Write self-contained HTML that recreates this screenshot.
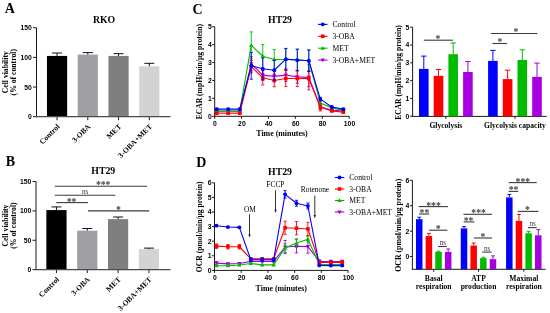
<!DOCTYPE html>
<html><head><meta charset="utf-8"><style>
html,body{margin:0;padding:0;background:#fff;width:550px;height:313px;overflow:hidden}
svg{display:block;will-change:transform}
</style></head><body>
<svg width="550" height="313" viewBox="0 0 550 313" shape-rendering="auto">
<rect width="550" height="313" fill="#fff"/>
<text x="4.80" y="12.80" font-family='"Liberation Serif", serif' font-size="14" font-weight="bold" text-anchor="start" fill="#000">A</text>
<text x="104.10" y="22.70" font-family='"Liberation Serif", serif' font-size="9.8" font-weight="bold" text-anchor="middle" fill="#000">RKO</text>
<line x1="36.50" y1="27.75" x2="36.50" y2="117.20" stroke="#1a1a1a" stroke-width="1"/>
<line x1="33.00" y1="116.70" x2="36.50" y2="116.70" stroke="#1a1a1a" stroke-width="1"/>
<text x="31.90" y="119.15" font-family='"Liberation Sans", sans-serif' font-size="6.8" font-weight="bold" text-anchor="end" fill="#000">0</text>
<line x1="33.00" y1="87.05" x2="36.50" y2="87.05" stroke="#1a1a1a" stroke-width="1"/>
<text x="31.90" y="89.50" font-family='"Liberation Sans", sans-serif' font-size="6.8" font-weight="bold" text-anchor="end" fill="#000">50</text>
<line x1="33.00" y1="57.40" x2="36.50" y2="57.40" stroke="#1a1a1a" stroke-width="1"/>
<text x="31.90" y="59.85" font-family='"Liberation Sans", sans-serif' font-size="6.8" font-weight="bold" text-anchor="end" fill="#000">100</text>
<line x1="33.00" y1="27.75" x2="36.50" y2="27.75" stroke="#1a1a1a" stroke-width="1"/>
<text x="31.90" y="30.20" font-family='"Liberation Sans", sans-serif' font-size="6.8" font-weight="bold" text-anchor="end" fill="#000">150</text>
<rect x="46.95" y="55.92" width="20.20" height="60.78" fill="#000000"/>
<line x1="57.05" y1="53.01" x2="57.05" y2="55.92" stroke="#111" stroke-width="1"/>
<line x1="52.05" y1="53.01" x2="62.05" y2="53.01" stroke="#111" stroke-width="1"/>
<line x1="57.05" y1="116.70" x2="57.05" y2="120.20" stroke="#1a1a1a" stroke-width="1"/>
<text x="60.25" y="127.00" font-family='"Liberation Serif", serif' font-size="7.6" font-weight="bold" text-anchor="end" fill="#000" transform="rotate(-45 60.25 127.00)">Control</text>
<rect x="77.70" y="54.61" width="20.20" height="62.09" fill="#a09fa3"/>
<line x1="87.80" y1="52.60" x2="87.80" y2="54.61" stroke="#111" stroke-width="1"/>
<line x1="82.80" y1="52.60" x2="92.80" y2="52.60" stroke="#111" stroke-width="1"/>
<line x1="87.80" y1="116.70" x2="87.80" y2="120.20" stroke="#1a1a1a" stroke-width="1"/>
<text x="91.00" y="127.00" font-family='"Liberation Serif", serif' font-size="7.6" font-weight="bold" text-anchor="end" fill="#000" transform="rotate(-45 91.00 127.00)">3-OBA</text>
<rect x="108.45" y="55.92" width="20.20" height="60.78" fill="#7f7f7f"/>
<line x1="118.55" y1="53.66" x2="118.55" y2="55.92" stroke="#111" stroke-width="1"/>
<line x1="113.55" y1="53.66" x2="123.55" y2="53.66" stroke="#111" stroke-width="1"/>
<line x1="118.55" y1="116.70" x2="118.55" y2="120.20" stroke="#1a1a1a" stroke-width="1"/>
<text x="121.75" y="127.00" font-family='"Liberation Serif", serif' font-size="7.6" font-weight="bold" text-anchor="end" fill="#000" transform="rotate(-45 121.75 127.00)">MET</text>
<rect x="139.20" y="66.30" width="20.20" height="50.41" fill="#d3d3d3"/>
<line x1="149.30" y1="63.33" x2="149.30" y2="66.30" stroke="#111" stroke-width="1"/>
<line x1="144.30" y1="63.33" x2="154.30" y2="63.33" stroke="#111" stroke-width="1"/>
<line x1="149.30" y1="116.70" x2="149.30" y2="120.20" stroke="#1a1a1a" stroke-width="1"/>
<text x="152.50" y="127.00" font-family='"Liberation Serif", serif' font-size="7.6" font-weight="bold" text-anchor="end" fill="#000" transform="rotate(-45 152.50 127.00)">3-OBA+MET</text>
<line x1="36.00" y1="116.70" x2="170.50" y2="116.70" stroke="#4a4a4a" stroke-width="1.2"/>
<text x="7.60" y="72.23" font-family='"Liberation Serif", serif' font-size="7.7" font-weight="bold" text-anchor="middle" fill="#000" transform="rotate(-90 7.60 72.23)">Cell viability</text>
<text x="16.40" y="72.23" font-family='"Liberation Serif", serif' font-size="7.7" font-weight="bold" text-anchor="middle" fill="#000" transform="rotate(-90 16.40 72.23)">(% of control)</text>
<text x="5.80" y="166.30" font-family='"Liberation Serif", serif' font-size="14" font-weight="bold" text-anchor="start" fill="#000">B</text>
<text x="103.30" y="174.20" font-family='"Liberation Serif", serif' font-size="9.8" font-weight="bold" text-anchor="middle" fill="#000">HT29</text>
<line x1="36.00" y1="181.55" x2="36.00" y2="270.10" stroke="#1a1a1a" stroke-width="1"/>
<line x1="32.50" y1="269.60" x2="36.00" y2="269.60" stroke="#1a1a1a" stroke-width="1"/>
<text x="31.40" y="272.05" font-family='"Liberation Sans", sans-serif' font-size="6.8" font-weight="bold" text-anchor="end" fill="#000">0</text>
<line x1="32.50" y1="240.25" x2="36.00" y2="240.25" stroke="#1a1a1a" stroke-width="1"/>
<text x="31.40" y="242.70" font-family='"Liberation Sans", sans-serif' font-size="6.8" font-weight="bold" text-anchor="end" fill="#000">50</text>
<line x1="32.50" y1="210.90" x2="36.00" y2="210.90" stroke="#1a1a1a" stroke-width="1"/>
<text x="31.40" y="213.35" font-family='"Liberation Sans", sans-serif' font-size="6.8" font-weight="bold" text-anchor="end" fill="#000">100</text>
<line x1="32.50" y1="181.55" x2="36.00" y2="181.55" stroke="#1a1a1a" stroke-width="1"/>
<text x="31.40" y="184.00" font-family='"Liberation Sans", sans-serif' font-size="6.8" font-weight="bold" text-anchor="end" fill="#000">150</text>
<rect x="46.35" y="210.08" width="20.20" height="59.52" fill="#000000"/>
<line x1="56.45" y1="206.91" x2="56.45" y2="210.08" stroke="#111" stroke-width="1"/>
<line x1="51.45" y1="206.91" x2="61.45" y2="206.91" stroke="#111" stroke-width="1"/>
<line x1="56.45" y1="269.60" x2="56.45" y2="273.10" stroke="#1a1a1a" stroke-width="1"/>
<text x="59.65" y="279.90" font-family='"Liberation Serif", serif' font-size="7.6" font-weight="bold" text-anchor="end" fill="#000" transform="rotate(-45 59.65 279.90)">Control</text>
<rect x="77.18" y="230.68" width="20.20" height="38.92" fill="#a09fa3"/>
<line x1="87.28" y1="228.51" x2="87.28" y2="230.68" stroke="#111" stroke-width="1"/>
<line x1="82.28" y1="228.51" x2="92.28" y2="228.51" stroke="#111" stroke-width="1"/>
<line x1="87.28" y1="269.60" x2="87.28" y2="273.10" stroke="#1a1a1a" stroke-width="1"/>
<text x="90.48" y="279.90" font-family='"Liberation Serif", serif' font-size="7.6" font-weight="bold" text-anchor="end" fill="#000" transform="rotate(-45 90.48 279.90)">3-OBA</text>
<rect x="108.01" y="219.12" width="20.20" height="50.48" fill="#7f7f7f"/>
<line x1="118.11" y1="217.00" x2="118.11" y2="219.12" stroke="#111" stroke-width="1"/>
<line x1="113.11" y1="217.00" x2="123.11" y2="217.00" stroke="#111" stroke-width="1"/>
<line x1="118.11" y1="269.60" x2="118.11" y2="273.10" stroke="#1a1a1a" stroke-width="1"/>
<text x="121.31" y="279.90" font-family='"Liberation Serif", serif' font-size="7.6" font-weight="bold" text-anchor="end" fill="#000" transform="rotate(-45 121.31 279.90)">MET</text>
<rect x="138.84" y="249.17" width="20.20" height="20.43" fill="#d3d3d3"/>
<line x1="148.94" y1="248.12" x2="148.94" y2="249.17" stroke="#111" stroke-width="1"/>
<line x1="143.94" y1="248.12" x2="153.94" y2="248.12" stroke="#111" stroke-width="1"/>
<line x1="148.94" y1="269.60" x2="148.94" y2="273.10" stroke="#1a1a1a" stroke-width="1"/>
<text x="152.14" y="279.90" font-family='"Liberation Serif", serif' font-size="7.6" font-weight="bold" text-anchor="end" fill="#000" transform="rotate(-45 152.14 279.90)">3-OBA+MET</text>
<line x1="35.50" y1="269.60" x2="170.50" y2="269.60" stroke="#4a4a4a" stroke-width="1.2"/>
<text x="7.60" y="225.58" font-family='"Liberation Serif", serif' font-size="7.7" font-weight="bold" text-anchor="middle" fill="#000" transform="rotate(-90 7.60 225.58)">Cell viability</text>
<text x="16.40" y="225.58" font-family='"Liberation Serif", serif' font-size="7.7" font-weight="bold" text-anchor="middle" fill="#000" transform="rotate(-90 16.40 225.58)">(% of control)</text>
<line x1="54.80" y1="186.20" x2="147.00" y2="186.20" stroke="#3a3a3a" stroke-width="1.1"/>
<text x="103.20" y="188.10" font-family='"Liberation Serif", serif' font-size="9.7" font-weight="bold" text-anchor="middle" fill="#3a3a3a">***</text>
<line x1="54.80" y1="195.20" x2="115.30" y2="195.20" stroke="#3a3a3a" stroke-width="1.1"/>
<text x="85.10" y="193.80" font-family='"Liberation Serif", serif' font-size="7.2" font-weight="normal" text-anchor="middle" fill="#3a3a3a">ns</text>
<line x1="56.20" y1="202.60" x2="88.00" y2="202.60" stroke="#3a3a3a" stroke-width="1.1"/>
<text x="71.50" y="204.50" font-family='"Liberation Serif", serif' font-size="9.7" font-weight="bold" text-anchor="middle" fill="#3a3a3a">**</text>
<line x1="88.00" y1="210.90" x2="149.20" y2="210.90" stroke="#3a3a3a" stroke-width="1.1"/>
<text x="118.30" y="212.80" font-family='"Liberation Serif", serif' font-size="9.7" font-weight="bold" text-anchor="middle" fill="#3a3a3a">*</text>
<line x1="214.70" y1="26.70" x2="214.70" y2="116.80" stroke="#1a1a1a" stroke-width="1"/>
<line x1="212.20" y1="116.30" x2="214.70" y2="116.30" stroke="#1a1a1a" stroke-width="1"/>
<text x="211.80" y="118.70" font-family='"Liberation Sans", sans-serif' font-size="6.8" font-weight="bold" text-anchor="end" fill="#000">0</text>
<line x1="212.20" y1="98.38" x2="214.70" y2="98.38" stroke="#1a1a1a" stroke-width="1"/>
<text x="211.80" y="100.78" font-family='"Liberation Sans", sans-serif' font-size="6.8" font-weight="bold" text-anchor="end" fill="#000">1</text>
<line x1="212.20" y1="80.46" x2="214.70" y2="80.46" stroke="#1a1a1a" stroke-width="1"/>
<text x="211.80" y="82.86" font-family='"Liberation Sans", sans-serif' font-size="6.8" font-weight="bold" text-anchor="end" fill="#000">2</text>
<line x1="212.20" y1="62.54" x2="214.70" y2="62.54" stroke="#1a1a1a" stroke-width="1"/>
<text x="211.80" y="64.94" font-family='"Liberation Sans", sans-serif' font-size="6.8" font-weight="bold" text-anchor="end" fill="#000">3</text>
<line x1="212.20" y1="44.62" x2="214.70" y2="44.62" stroke="#1a1a1a" stroke-width="1"/>
<text x="211.80" y="47.02" font-family='"Liberation Sans", sans-serif' font-size="6.8" font-weight="bold" text-anchor="end" fill="#000">4</text>
<line x1="212.20" y1="26.70" x2="214.70" y2="26.70" stroke="#1a1a1a" stroke-width="1"/>
<text x="211.80" y="29.10" font-family='"Liberation Sans", sans-serif' font-size="6.8" font-weight="bold" text-anchor="end" fill="#000">5</text>
<line x1="214.20" y1="116.30" x2="349.20" y2="116.30" stroke="#1a1a1a" stroke-width="1"/>
<line x1="214.70" y1="116.30" x2="214.70" y2="118.80" stroke="#1a1a1a" stroke-width="1"/>
<text x="215.00" y="126.30" font-family='"Liberation Sans", sans-serif' font-size="6.8" font-weight="bold" text-anchor="middle" fill="#000">0</text>
<line x1="241.60" y1="116.30" x2="241.60" y2="118.80" stroke="#1a1a1a" stroke-width="1"/>
<text x="241.90" y="126.30" font-family='"Liberation Sans", sans-serif' font-size="6.8" font-weight="bold" text-anchor="middle" fill="#000">20</text>
<line x1="268.50" y1="116.30" x2="268.50" y2="118.80" stroke="#1a1a1a" stroke-width="1"/>
<text x="268.80" y="126.30" font-family='"Liberation Sans", sans-serif' font-size="6.8" font-weight="bold" text-anchor="middle" fill="#000">40</text>
<line x1="295.40" y1="116.30" x2="295.40" y2="118.80" stroke="#1a1a1a" stroke-width="1"/>
<text x="295.70" y="126.30" font-family='"Liberation Sans", sans-serif' font-size="6.8" font-weight="bold" text-anchor="middle" fill="#000">60</text>
<line x1="322.30" y1="116.30" x2="322.30" y2="118.80" stroke="#1a1a1a" stroke-width="1"/>
<text x="322.60" y="126.30" font-family='"Liberation Sans", sans-serif' font-size="6.8" font-weight="bold" text-anchor="middle" fill="#000">80</text>
<line x1="349.20" y1="116.30" x2="349.20" y2="118.80" stroke="#1a1a1a" stroke-width="1"/>
<text x="349.50" y="126.30" font-family='"Liberation Sans", sans-serif' font-size="6.8" font-weight="bold" text-anchor="middle" fill="#000">100</text>
<text x="281.95" y="136.20" font-family='"Liberation Serif", serif' font-size="7.9" font-weight="bold" text-anchor="middle" fill="#000">Time (minutes)</text>
<text x="201.70" y="71.70" font-family='"Liberation Serif", serif' font-size="7.6" font-weight="bold" text-anchor="middle" fill="#000" transform="rotate(-90 201.70 71.70)">ECAR (mpH/min/μg protein)</text>
<text x="192.50" y="13.70" font-family='"Liberation Serif", serif' font-size="14" font-weight="bold" text-anchor="start" fill="#000">C</text>
<text x="280.00" y="22.90" font-family='"Liberation Serif", serif' font-size="9.8" font-weight="bold" text-anchor="middle" fill="#000">HT29</text>
<line x1="216.72" y1="111.28" x2="216.72" y2="112.36" stroke="#a600e0" stroke-width="0.9"/>
<line x1="215.12" y1="111.28" x2="218.32" y2="111.28" stroke="#a600e0" stroke-width="0.9"/>
<line x1="215.12" y1="112.36" x2="218.32" y2="112.36" stroke="#a600e0" stroke-width="0.9"/>
<line x1="228.23" y1="111.28" x2="228.23" y2="112.36" stroke="#a600e0" stroke-width="0.9"/>
<line x1="226.63" y1="111.28" x2="229.83" y2="111.28" stroke="#a600e0" stroke-width="0.9"/>
<line x1="226.63" y1="112.36" x2="229.83" y2="112.36" stroke="#a600e0" stroke-width="0.9"/>
<line x1="239.74" y1="111.28" x2="239.74" y2="112.36" stroke="#a600e0" stroke-width="0.9"/>
<line x1="238.14" y1="111.28" x2="241.34" y2="111.28" stroke="#a600e0" stroke-width="0.9"/>
<line x1="238.14" y1="112.36" x2="241.34" y2="112.36" stroke="#a600e0" stroke-width="0.9"/>
<line x1="251.26" y1="56.63" x2="251.26" y2="70.96" stroke="#a600e0" stroke-width="0.9"/>
<line x1="249.66" y1="56.63" x2="252.86" y2="56.63" stroke="#a600e0" stroke-width="0.9"/>
<line x1="249.66" y1="70.96" x2="252.86" y2="70.96" stroke="#a600e0" stroke-width="0.9"/>
<line x1="262.77" y1="69.71" x2="262.77" y2="80.46" stroke="#a600e0" stroke-width="0.9"/>
<line x1="261.17" y1="69.71" x2="264.37" y2="69.71" stroke="#a600e0" stroke-width="0.9"/>
<line x1="261.17" y1="80.46" x2="264.37" y2="80.46" stroke="#a600e0" stroke-width="0.9"/>
<line x1="274.28" y1="70.96" x2="274.28" y2="81.71" stroke="#a600e0" stroke-width="0.9"/>
<line x1="272.68" y1="70.96" x2="275.88" y2="70.96" stroke="#a600e0" stroke-width="0.9"/>
<line x1="272.68" y1="81.71" x2="275.88" y2="81.71" stroke="#a600e0" stroke-width="0.9"/>
<line x1="285.80" y1="68.81" x2="285.80" y2="81.36" stroke="#a600e0" stroke-width="0.9"/>
<line x1="284.20" y1="68.81" x2="287.40" y2="68.81" stroke="#a600e0" stroke-width="0.9"/>
<line x1="284.20" y1="81.36" x2="287.40" y2="81.36" stroke="#a600e0" stroke-width="0.9"/>
<line x1="297.31" y1="70.60" x2="297.31" y2="83.15" stroke="#a600e0" stroke-width="0.9"/>
<line x1="295.71" y1="70.60" x2="298.91" y2="70.60" stroke="#a600e0" stroke-width="0.9"/>
<line x1="295.71" y1="83.15" x2="298.91" y2="83.15" stroke="#a600e0" stroke-width="0.9"/>
<line x1="308.82" y1="64.87" x2="308.82" y2="89.96" stroke="#a600e0" stroke-width="0.9"/>
<line x1="307.22" y1="64.87" x2="310.42" y2="64.87" stroke="#a600e0" stroke-width="0.9"/>
<line x1="307.22" y1="89.96" x2="310.42" y2="89.96" stroke="#a600e0" stroke-width="0.9"/>
<line x1="320.34" y1="104.11" x2="320.34" y2="109.49" stroke="#a600e0" stroke-width="0.9"/>
<line x1="318.74" y1="104.11" x2="321.94" y2="104.11" stroke="#a600e0" stroke-width="0.9"/>
<line x1="318.74" y1="109.49" x2="321.94" y2="109.49" stroke="#a600e0" stroke-width="0.9"/>
<line x1="331.85" y1="109.49" x2="331.85" y2="111.28" stroke="#a600e0" stroke-width="0.9"/>
<line x1="330.25" y1="109.49" x2="333.45" y2="109.49" stroke="#a600e0" stroke-width="0.9"/>
<line x1="330.25" y1="111.28" x2="333.45" y2="111.28" stroke="#a600e0" stroke-width="0.9"/>
<line x1="343.36" y1="110.03" x2="343.36" y2="111.82" stroke="#a600e0" stroke-width="0.9"/>
<line x1="341.76" y1="110.03" x2="344.96" y2="110.03" stroke="#a600e0" stroke-width="0.9"/>
<line x1="341.76" y1="111.82" x2="344.96" y2="111.82" stroke="#a600e0" stroke-width="0.9"/>
<polyline points="216.72,111.82 228.23,111.82 239.74,111.82 251.26,63.79 262.77,75.08 274.28,76.34 285.80,75.08 297.31,76.88 308.82,77.41 320.34,106.80 331.85,110.39 343.36,110.92" fill="none" stroke="#a600e0" stroke-width="1.1" stroke-linejoin="round"/>
<polygon points="216.72,114.02 218.92,110.28 214.52,110.28" fill="#a600e0"/>
<polygon points="228.23,114.02 230.43,110.28 226.03,110.28" fill="#a600e0"/>
<polygon points="239.74,114.02 241.94,110.28 237.54,110.28" fill="#a600e0"/>
<polygon points="251.26,65.99 253.46,62.25 249.06,62.25" fill="#a600e0"/>
<polygon points="262.77,77.28 264.97,73.54 260.57,73.54" fill="#a600e0"/>
<polygon points="274.28,78.54 276.48,74.80 272.08,74.80" fill="#a600e0"/>
<polygon points="285.80,77.28 288.00,73.54 283.60,73.54" fill="#a600e0"/>
<polygon points="297.31,79.08 299.51,75.34 295.11,75.34" fill="#a600e0"/>
<polygon points="308.82,79.61 311.02,75.87 306.62,75.87" fill="#a600e0"/>
<polygon points="320.34,109.00 322.54,105.26 318.14,105.26" fill="#a600e0"/>
<polygon points="331.85,112.59 334.05,108.85 329.65,108.85" fill="#a600e0"/>
<polygon points="343.36,113.12 345.56,109.38 341.16,109.38" fill="#a600e0"/>
<line x1="216.72" y1="110.39" x2="216.72" y2="111.46" stroke="#00bb00" stroke-width="0.9"/>
<line x1="215.12" y1="110.39" x2="218.32" y2="110.39" stroke="#00bb00" stroke-width="0.9"/>
<line x1="215.12" y1="111.46" x2="218.32" y2="111.46" stroke="#00bb00" stroke-width="0.9"/>
<line x1="228.23" y1="110.39" x2="228.23" y2="111.46" stroke="#00bb00" stroke-width="0.9"/>
<line x1="226.63" y1="110.39" x2="229.83" y2="110.39" stroke="#00bb00" stroke-width="0.9"/>
<line x1="226.63" y1="111.46" x2="229.83" y2="111.46" stroke="#00bb00" stroke-width="0.9"/>
<line x1="239.74" y1="110.39" x2="239.74" y2="111.46" stroke="#00bb00" stroke-width="0.9"/>
<line x1="238.14" y1="110.39" x2="241.34" y2="110.39" stroke="#00bb00" stroke-width="0.9"/>
<line x1="238.14" y1="111.46" x2="241.34" y2="111.46" stroke="#00bb00" stroke-width="0.9"/>
<line x1="251.26" y1="31.90" x2="251.26" y2="58.78" stroke="#00bb00" stroke-width="0.9"/>
<line x1="249.66" y1="31.90" x2="252.86" y2="31.90" stroke="#00bb00" stroke-width="0.9"/>
<line x1="249.66" y1="58.78" x2="252.86" y2="58.78" stroke="#00bb00" stroke-width="0.9"/>
<line x1="262.77" y1="44.62" x2="262.77" y2="67.92" stroke="#00bb00" stroke-width="0.9"/>
<line x1="261.17" y1="44.62" x2="264.37" y2="44.62" stroke="#00bb00" stroke-width="0.9"/>
<line x1="261.17" y1="67.92" x2="264.37" y2="67.92" stroke="#00bb00" stroke-width="0.9"/>
<line x1="274.28" y1="49.64" x2="274.28" y2="69.35" stroke="#00bb00" stroke-width="0.9"/>
<line x1="272.68" y1="49.64" x2="275.88" y2="49.64" stroke="#00bb00" stroke-width="0.9"/>
<line x1="272.68" y1="69.35" x2="275.88" y2="69.35" stroke="#00bb00" stroke-width="0.9"/>
<line x1="285.80" y1="48.74" x2="285.80" y2="70.25" stroke="#00bb00" stroke-width="0.9"/>
<line x1="284.20" y1="48.74" x2="287.40" y2="48.74" stroke="#00bb00" stroke-width="0.9"/>
<line x1="284.20" y1="70.25" x2="287.40" y2="70.25" stroke="#00bb00" stroke-width="0.9"/>
<line x1="297.31" y1="49.10" x2="297.31" y2="70.60" stroke="#00bb00" stroke-width="0.9"/>
<line x1="295.71" y1="49.10" x2="298.91" y2="49.10" stroke="#00bb00" stroke-width="0.9"/>
<line x1="295.71" y1="70.60" x2="298.91" y2="70.60" stroke="#00bb00" stroke-width="0.9"/>
<line x1="308.82" y1="50.00" x2="308.82" y2="71.50" stroke="#00bb00" stroke-width="0.9"/>
<line x1="307.22" y1="50.00" x2="310.42" y2="50.00" stroke="#00bb00" stroke-width="0.9"/>
<line x1="307.22" y1="71.50" x2="310.42" y2="71.50" stroke="#00bb00" stroke-width="0.9"/>
<line x1="320.34" y1="101.25" x2="320.34" y2="104.83" stroke="#00bb00" stroke-width="0.9"/>
<line x1="318.74" y1="101.25" x2="321.94" y2="101.25" stroke="#00bb00" stroke-width="0.9"/>
<line x1="318.74" y1="104.83" x2="321.94" y2="104.83" stroke="#00bb00" stroke-width="0.9"/>
<line x1="331.85" y1="106.98" x2="331.85" y2="108.77" stroke="#00bb00" stroke-width="0.9"/>
<line x1="330.25" y1="106.98" x2="333.45" y2="106.98" stroke="#00bb00" stroke-width="0.9"/>
<line x1="330.25" y1="108.77" x2="333.45" y2="108.77" stroke="#00bb00" stroke-width="0.9"/>
<line x1="343.36" y1="109.49" x2="343.36" y2="111.28" stroke="#00bb00" stroke-width="0.9"/>
<line x1="341.76" y1="109.49" x2="344.96" y2="109.49" stroke="#00bb00" stroke-width="0.9"/>
<line x1="341.76" y1="111.28" x2="344.96" y2="111.28" stroke="#00bb00" stroke-width="0.9"/>
<polyline points="216.72,110.92 228.23,110.92 239.74,110.92 251.26,45.34 262.77,56.27 274.28,59.49 285.80,59.49 297.31,59.85 308.82,60.75 320.34,103.04 331.85,107.88 343.36,110.39" fill="none" stroke="#00bb00" stroke-width="1.1" stroke-linejoin="round"/>
<polygon points="216.72,108.72 218.92,112.46 214.52,112.46" fill="#00bb00"/>
<polygon points="228.23,108.72 230.43,112.46 226.03,112.46" fill="#00bb00"/>
<polygon points="239.74,108.72 241.94,112.46 237.54,112.46" fill="#00bb00"/>
<polygon points="251.26,43.14 253.46,46.88 249.06,46.88" fill="#00bb00"/>
<polygon points="262.77,54.07 264.97,57.81 260.57,57.81" fill="#00bb00"/>
<polygon points="274.28,57.29 276.48,61.03 272.08,61.03" fill="#00bb00"/>
<polygon points="285.80,57.29 288.00,61.03 283.60,61.03" fill="#00bb00"/>
<polygon points="297.31,57.65 299.51,61.39 295.11,61.39" fill="#00bb00"/>
<polygon points="308.82,58.55 311.02,62.29 306.62,62.29" fill="#00bb00"/>
<polygon points="320.34,100.84 322.54,104.58 318.14,104.58" fill="#00bb00"/>
<polygon points="331.85,105.68 334.05,109.42 329.65,109.42" fill="#00bb00"/>
<polygon points="343.36,108.19 345.56,111.93 341.16,111.93" fill="#00bb00"/>
<line x1="216.72" y1="112.36" x2="216.72" y2="114.15" stroke="#ff0000" stroke-width="0.9"/>
<line x1="215.12" y1="112.36" x2="218.32" y2="112.36" stroke="#ff0000" stroke-width="0.9"/>
<line x1="215.12" y1="114.15" x2="218.32" y2="114.15" stroke="#ff0000" stroke-width="0.9"/>
<line x1="228.23" y1="112.36" x2="228.23" y2="114.15" stroke="#ff0000" stroke-width="0.9"/>
<line x1="226.63" y1="112.36" x2="229.83" y2="112.36" stroke="#ff0000" stroke-width="0.9"/>
<line x1="226.63" y1="114.15" x2="229.83" y2="114.15" stroke="#ff0000" stroke-width="0.9"/>
<line x1="239.74" y1="112.36" x2="239.74" y2="114.15" stroke="#ff0000" stroke-width="0.9"/>
<line x1="238.14" y1="112.36" x2="241.34" y2="112.36" stroke="#ff0000" stroke-width="0.9"/>
<line x1="238.14" y1="114.15" x2="241.34" y2="114.15" stroke="#ff0000" stroke-width="0.9"/>
<line x1="251.26" y1="60.39" x2="251.26" y2="72.93" stroke="#ff0000" stroke-width="0.9"/>
<line x1="249.66" y1="60.39" x2="252.86" y2="60.39" stroke="#ff0000" stroke-width="0.9"/>
<line x1="249.66" y1="72.93" x2="252.86" y2="72.93" stroke="#ff0000" stroke-width="0.9"/>
<line x1="262.77" y1="70.60" x2="262.77" y2="84.94" stroke="#ff0000" stroke-width="0.9"/>
<line x1="261.17" y1="70.60" x2="264.37" y2="70.60" stroke="#ff0000" stroke-width="0.9"/>
<line x1="261.17" y1="84.94" x2="264.37" y2="84.94" stroke="#ff0000" stroke-width="0.9"/>
<line x1="274.28" y1="74.19" x2="274.28" y2="86.73" stroke="#ff0000" stroke-width="0.9"/>
<line x1="272.68" y1="74.19" x2="275.88" y2="74.19" stroke="#ff0000" stroke-width="0.9"/>
<line x1="272.68" y1="86.73" x2="275.88" y2="86.73" stroke="#ff0000" stroke-width="0.9"/>
<line x1="285.80" y1="70.42" x2="285.80" y2="86.55" stroke="#ff0000" stroke-width="0.9"/>
<line x1="284.20" y1="70.42" x2="287.40" y2="70.42" stroke="#ff0000" stroke-width="0.9"/>
<line x1="284.20" y1="86.55" x2="287.40" y2="86.55" stroke="#ff0000" stroke-width="0.9"/>
<line x1="297.31" y1="70.42" x2="297.31" y2="86.55" stroke="#ff0000" stroke-width="0.9"/>
<line x1="295.71" y1="70.42" x2="298.91" y2="70.42" stroke="#ff0000" stroke-width="0.9"/>
<line x1="295.71" y1="86.55" x2="298.91" y2="86.55" stroke="#ff0000" stroke-width="0.9"/>
<line x1="308.82" y1="70.60" x2="308.82" y2="86.73" stroke="#ff0000" stroke-width="0.9"/>
<line x1="307.22" y1="70.60" x2="310.42" y2="70.60" stroke="#ff0000" stroke-width="0.9"/>
<line x1="307.22" y1="86.73" x2="310.42" y2="86.73" stroke="#ff0000" stroke-width="0.9"/>
<line x1="320.34" y1="103.76" x2="320.34" y2="110.92" stroke="#ff0000" stroke-width="0.9"/>
<line x1="318.74" y1="103.76" x2="321.94" y2="103.76" stroke="#ff0000" stroke-width="0.9"/>
<line x1="318.74" y1="110.92" x2="321.94" y2="110.92" stroke="#ff0000" stroke-width="0.9"/>
<line x1="331.85" y1="110.03" x2="331.85" y2="111.82" stroke="#ff0000" stroke-width="0.9"/>
<line x1="330.25" y1="110.03" x2="333.45" y2="110.03" stroke="#ff0000" stroke-width="0.9"/>
<line x1="330.25" y1="111.82" x2="333.45" y2="111.82" stroke="#ff0000" stroke-width="0.9"/>
<line x1="343.36" y1="111.28" x2="343.36" y2="113.07" stroke="#ff0000" stroke-width="0.9"/>
<line x1="341.76" y1="111.28" x2="344.96" y2="111.28" stroke="#ff0000" stroke-width="0.9"/>
<line x1="341.76" y1="113.07" x2="344.96" y2="113.07" stroke="#ff0000" stroke-width="0.9"/>
<polyline points="216.72,113.25 228.23,113.25 239.74,113.25 251.26,66.66 262.77,77.77 274.28,80.46 285.80,78.49 297.31,78.49 308.82,78.67 320.34,107.34 331.85,110.92 343.36,112.18" fill="none" stroke="#ff0000" stroke-width="1.1" stroke-linejoin="round"/>
<rect x="214.92" y="111.45" width="3.60" height="3.60" fill="#ff0000"/>
<rect x="226.43" y="111.45" width="3.60" height="3.60" fill="#ff0000"/>
<rect x="237.94" y="111.45" width="3.60" height="3.60" fill="#ff0000"/>
<rect x="249.46" y="64.86" width="3.60" height="3.60" fill="#ff0000"/>
<rect x="260.97" y="75.97" width="3.60" height="3.60" fill="#ff0000"/>
<rect x="272.48" y="78.66" width="3.60" height="3.60" fill="#ff0000"/>
<rect x="284.00" y="76.69" width="3.60" height="3.60" fill="#ff0000"/>
<rect x="295.51" y="76.69" width="3.60" height="3.60" fill="#ff0000"/>
<rect x="307.02" y="76.87" width="3.60" height="3.60" fill="#ff0000"/>
<rect x="318.54" y="105.54" width="3.60" height="3.60" fill="#ff0000"/>
<rect x="330.05" y="109.12" width="3.60" height="3.60" fill="#ff0000"/>
<rect x="341.56" y="110.38" width="3.60" height="3.60" fill="#ff0000"/>
<line x1="216.72" y1="108.24" x2="216.72" y2="110.03" stroke="#0000ff" stroke-width="0.9"/>
<line x1="215.12" y1="108.24" x2="218.32" y2="108.24" stroke="#0000ff" stroke-width="0.9"/>
<line x1="215.12" y1="110.03" x2="218.32" y2="110.03" stroke="#0000ff" stroke-width="0.9"/>
<line x1="228.23" y1="108.24" x2="228.23" y2="110.03" stroke="#0000ff" stroke-width="0.9"/>
<line x1="226.63" y1="108.24" x2="229.83" y2="108.24" stroke="#0000ff" stroke-width="0.9"/>
<line x1="226.63" y1="110.03" x2="229.83" y2="110.03" stroke="#0000ff" stroke-width="0.9"/>
<line x1="239.74" y1="108.24" x2="239.74" y2="110.03" stroke="#0000ff" stroke-width="0.9"/>
<line x1="238.14" y1="108.24" x2="241.34" y2="108.24" stroke="#0000ff" stroke-width="0.9"/>
<line x1="238.14" y1="110.03" x2="241.34" y2="110.03" stroke="#0000ff" stroke-width="0.9"/>
<line x1="251.26" y1="52.33" x2="251.26" y2="79.21" stroke="#0000ff" stroke-width="0.9"/>
<line x1="249.66" y1="52.33" x2="252.86" y2="52.33" stroke="#0000ff" stroke-width="0.9"/>
<line x1="249.66" y1="79.21" x2="252.86" y2="79.21" stroke="#0000ff" stroke-width="0.9"/>
<line x1="262.77" y1="58.06" x2="262.77" y2="79.56" stroke="#0000ff" stroke-width="0.9"/>
<line x1="261.17" y1="58.06" x2="264.37" y2="58.06" stroke="#0000ff" stroke-width="0.9"/>
<line x1="261.17" y1="79.56" x2="264.37" y2="79.56" stroke="#0000ff" stroke-width="0.9"/>
<line x1="274.28" y1="60.39" x2="274.28" y2="80.10" stroke="#0000ff" stroke-width="0.9"/>
<line x1="272.68" y1="60.39" x2="275.88" y2="60.39" stroke="#0000ff" stroke-width="0.9"/>
<line x1="272.68" y1="80.10" x2="275.88" y2="80.10" stroke="#0000ff" stroke-width="0.9"/>
<line x1="285.80" y1="48.38" x2="285.80" y2="69.89" stroke="#0000ff" stroke-width="0.9"/>
<line x1="284.20" y1="48.38" x2="287.40" y2="48.38" stroke="#0000ff" stroke-width="0.9"/>
<line x1="284.20" y1="69.89" x2="287.40" y2="69.89" stroke="#0000ff" stroke-width="0.9"/>
<line x1="297.31" y1="49.28" x2="297.31" y2="70.78" stroke="#0000ff" stroke-width="0.9"/>
<line x1="295.71" y1="49.28" x2="298.91" y2="49.28" stroke="#0000ff" stroke-width="0.9"/>
<line x1="295.71" y1="70.78" x2="298.91" y2="70.78" stroke="#0000ff" stroke-width="0.9"/>
<line x1="308.82" y1="50.00" x2="308.82" y2="71.50" stroke="#0000ff" stroke-width="0.9"/>
<line x1="307.22" y1="50.00" x2="310.42" y2="50.00" stroke="#0000ff" stroke-width="0.9"/>
<line x1="307.22" y1="71.50" x2="310.42" y2="71.50" stroke="#0000ff" stroke-width="0.9"/>
<line x1="320.34" y1="97.30" x2="320.34" y2="100.89" stroke="#0000ff" stroke-width="0.9"/>
<line x1="318.74" y1="97.30" x2="321.94" y2="97.30" stroke="#0000ff" stroke-width="0.9"/>
<line x1="318.74" y1="100.89" x2="321.94" y2="100.89" stroke="#0000ff" stroke-width="0.9"/>
<line x1="331.85" y1="106.09" x2="331.85" y2="107.88" stroke="#0000ff" stroke-width="0.9"/>
<line x1="330.25" y1="106.09" x2="333.45" y2="106.09" stroke="#0000ff" stroke-width="0.9"/>
<line x1="330.25" y1="107.88" x2="333.45" y2="107.88" stroke="#0000ff" stroke-width="0.9"/>
<line x1="343.36" y1="108.24" x2="343.36" y2="110.03" stroke="#0000ff" stroke-width="0.9"/>
<line x1="341.76" y1="108.24" x2="344.96" y2="108.24" stroke="#0000ff" stroke-width="0.9"/>
<line x1="341.76" y1="110.03" x2="344.96" y2="110.03" stroke="#0000ff" stroke-width="0.9"/>
<polyline points="216.72,109.13 228.23,109.13 239.74,109.13 251.26,65.77 262.77,68.81 274.28,70.25 285.80,59.14 297.31,60.03 308.82,60.75 320.34,99.10 331.85,106.98 343.36,109.13" fill="none" stroke="#0000ff" stroke-width="1.1" stroke-linejoin="round"/>
<circle cx="216.72" cy="109.13" r="1.90" fill="#0000ff"/>
<circle cx="228.23" cy="109.13" r="1.90" fill="#0000ff"/>
<circle cx="239.74" cy="109.13" r="1.90" fill="#0000ff"/>
<circle cx="251.26" cy="65.77" r="1.90" fill="#0000ff"/>
<circle cx="262.77" cy="68.81" r="1.90" fill="#0000ff"/>
<circle cx="274.28" cy="70.25" r="1.90" fill="#0000ff"/>
<circle cx="285.80" cy="59.14" r="1.90" fill="#0000ff"/>
<circle cx="297.31" cy="60.03" r="1.90" fill="#0000ff"/>
<circle cx="308.82" cy="60.75" r="1.90" fill="#0000ff"/>
<circle cx="320.34" cy="99.10" r="1.90" fill="#0000ff"/>
<circle cx="331.85" cy="106.98" r="1.90" fill="#0000ff"/>
<circle cx="343.36" cy="109.13" r="1.90" fill="#0000ff"/>
<line x1="318.00" y1="24.40" x2="327.50" y2="24.40" stroke="#0000ff" stroke-width="1.1"/>
<circle cx="322.75" cy="24.40" r="1.90" fill="#0000ff"/>
<text x="332.50" y="27.00" font-family='"Liberation Serif", serif' font-size="7.6" font-weight="normal" text-anchor="start" fill="#000">Control</text>
<line x1="318.00" y1="36.30" x2="327.50" y2="36.30" stroke="#ff0000" stroke-width="1.1"/>
<rect x="320.95" y="34.50" width="3.60" height="3.60" fill="#ff0000"/>
<text x="332.50" y="38.90" font-family='"Liberation Serif", serif' font-size="7.6" font-weight="normal" text-anchor="start" fill="#000">3-OBA</text>
<line x1="318.00" y1="48.20" x2="327.50" y2="48.20" stroke="#00bb00" stroke-width="1.1"/>
<polygon points="322.75,46.00 324.95,49.74 320.55,49.74" fill="#00bb00"/>
<text x="332.50" y="50.80" font-family='"Liberation Serif", serif' font-size="7.6" font-weight="normal" text-anchor="start" fill="#000">MET</text>
<line x1="318.00" y1="60.10" x2="327.50" y2="60.10" stroke="#a600e0" stroke-width="1.1"/>
<polygon points="322.75,62.30 324.95,58.56 320.55,58.56" fill="#a600e0"/>
<text x="332.50" y="62.70" font-family='"Liberation Serif", serif' font-size="7.6" font-weight="normal" text-anchor="start" fill="#000">3-OBA+MET</text>
<line x1="214.50" y1="182.80" x2="214.50" y2="270.90" stroke="#1a1a1a" stroke-width="1"/>
<line x1="212.00" y1="270.40" x2="214.50" y2="270.40" stroke="#1a1a1a" stroke-width="1"/>
<text x="211.60" y="272.80" font-family='"Liberation Sans", sans-serif' font-size="6.8" font-weight="bold" text-anchor="end" fill="#000">0</text>
<line x1="212.00" y1="255.80" x2="214.50" y2="255.80" stroke="#1a1a1a" stroke-width="1"/>
<text x="211.60" y="258.20" font-family='"Liberation Sans", sans-serif' font-size="6.8" font-weight="bold" text-anchor="end" fill="#000">1</text>
<line x1="212.00" y1="241.20" x2="214.50" y2="241.20" stroke="#1a1a1a" stroke-width="1"/>
<text x="211.60" y="243.60" font-family='"Liberation Sans", sans-serif' font-size="6.8" font-weight="bold" text-anchor="end" fill="#000">2</text>
<line x1="212.00" y1="226.60" x2="214.50" y2="226.60" stroke="#1a1a1a" stroke-width="1"/>
<text x="211.60" y="229.00" font-family='"Liberation Sans", sans-serif' font-size="6.8" font-weight="bold" text-anchor="end" fill="#000">3</text>
<line x1="212.00" y1="212.00" x2="214.50" y2="212.00" stroke="#1a1a1a" stroke-width="1"/>
<text x="211.60" y="214.40" font-family='"Liberation Sans", sans-serif' font-size="6.8" font-weight="bold" text-anchor="end" fill="#000">4</text>
<line x1="212.00" y1="197.40" x2="214.50" y2="197.40" stroke="#1a1a1a" stroke-width="1"/>
<text x="211.60" y="199.80" font-family='"Liberation Sans", sans-serif' font-size="6.8" font-weight="bold" text-anchor="end" fill="#000">5</text>
<line x1="212.00" y1="182.80" x2="214.50" y2="182.80" stroke="#1a1a1a" stroke-width="1"/>
<text x="211.60" y="185.20" font-family='"Liberation Sans", sans-serif' font-size="6.8" font-weight="bold" text-anchor="end" fill="#000">6</text>
<line x1="214.00" y1="270.40" x2="348.00" y2="270.40" stroke="#1a1a1a" stroke-width="1"/>
<line x1="214.50" y1="270.40" x2="214.50" y2="272.90" stroke="#1a1a1a" stroke-width="1"/>
<text x="214.80" y="280.40" font-family='"Liberation Sans", sans-serif' font-size="6.8" font-weight="bold" text-anchor="middle" fill="#000">0</text>
<line x1="241.20" y1="270.40" x2="241.20" y2="272.90" stroke="#1a1a1a" stroke-width="1"/>
<text x="241.50" y="280.40" font-family='"Liberation Sans", sans-serif' font-size="6.8" font-weight="bold" text-anchor="middle" fill="#000">20</text>
<line x1="267.90" y1="270.40" x2="267.90" y2="272.90" stroke="#1a1a1a" stroke-width="1"/>
<text x="268.20" y="280.40" font-family='"Liberation Sans", sans-serif' font-size="6.8" font-weight="bold" text-anchor="middle" fill="#000">40</text>
<line x1="294.60" y1="270.40" x2="294.60" y2="272.90" stroke="#1a1a1a" stroke-width="1"/>
<text x="294.90" y="280.40" font-family='"Liberation Sans", sans-serif' font-size="6.8" font-weight="bold" text-anchor="middle" fill="#000">60</text>
<line x1="321.30" y1="270.40" x2="321.30" y2="272.90" stroke="#1a1a1a" stroke-width="1"/>
<text x="321.60" y="280.40" font-family='"Liberation Sans", sans-serif' font-size="6.8" font-weight="bold" text-anchor="middle" fill="#000">80</text>
<line x1="348.00" y1="270.40" x2="348.00" y2="272.90" stroke="#1a1a1a" stroke-width="1"/>
<text x="348.30" y="280.40" font-family='"Liberation Sans", sans-serif' font-size="6.8" font-weight="bold" text-anchor="middle" fill="#000">100</text>
<text x="281.25" y="291.30" font-family='"Liberation Serif", serif' font-size="7.9" font-weight="bold" text-anchor="middle" fill="#000">Time (minutes)</text>
<text x="202.00" y="226.80" font-family='"Liberation Serif", serif' font-size="7.6" font-weight="bold" text-anchor="middle" fill="#000" transform="rotate(-90 202.00 226.80)">OCR (pmol/min/μg protein)</text>
<text x="196.20" y="166.90" font-family='"Liberation Serif", serif' font-size="14" font-weight="bold" text-anchor="start" fill="#000">D</text>
<text x="280.00" y="174.70" font-family='"Liberation Serif", serif' font-size="9.8" font-weight="bold" text-anchor="middle" fill="#000">HT29</text>
<line x1="216.50" y1="261.64" x2="216.50" y2="264.56" stroke="#a600e0" stroke-width="0.9"/>
<line x1="214.90" y1="261.64" x2="218.10" y2="261.64" stroke="#a600e0" stroke-width="0.9"/>
<line x1="214.90" y1="264.56" x2="218.10" y2="264.56" stroke="#a600e0" stroke-width="0.9"/>
<line x1="227.93" y1="263.10" x2="227.93" y2="264.56" stroke="#a600e0" stroke-width="0.9"/>
<line x1="226.33" y1="263.10" x2="229.53" y2="263.10" stroke="#a600e0" stroke-width="0.9"/>
<line x1="226.33" y1="264.56" x2="229.53" y2="264.56" stroke="#a600e0" stroke-width="0.9"/>
<line x1="239.36" y1="262.81" x2="239.36" y2="264.27" stroke="#a600e0" stroke-width="0.9"/>
<line x1="237.76" y1="262.81" x2="240.96" y2="262.81" stroke="#a600e0" stroke-width="0.9"/>
<line x1="237.76" y1="264.27" x2="240.96" y2="264.27" stroke="#a600e0" stroke-width="0.9"/>
<line x1="250.79" y1="260.62" x2="250.79" y2="262.08" stroke="#a600e0" stroke-width="0.9"/>
<line x1="249.19" y1="260.62" x2="252.39" y2="260.62" stroke="#a600e0" stroke-width="0.9"/>
<line x1="249.19" y1="262.08" x2="252.39" y2="262.08" stroke="#a600e0" stroke-width="0.9"/>
<line x1="262.21" y1="260.62" x2="262.21" y2="262.08" stroke="#a600e0" stroke-width="0.9"/>
<line x1="260.61" y1="260.62" x2="263.81" y2="260.62" stroke="#a600e0" stroke-width="0.9"/>
<line x1="260.61" y1="262.08" x2="263.81" y2="262.08" stroke="#a600e0" stroke-width="0.9"/>
<line x1="273.64" y1="260.62" x2="273.64" y2="262.08" stroke="#a600e0" stroke-width="0.9"/>
<line x1="272.04" y1="260.62" x2="275.24" y2="260.62" stroke="#a600e0" stroke-width="0.9"/>
<line x1="272.04" y1="262.08" x2="275.24" y2="262.08" stroke="#a600e0" stroke-width="0.9"/>
<line x1="285.07" y1="240.47" x2="285.07" y2="253.61" stroke="#a600e0" stroke-width="0.9"/>
<line x1="283.47" y1="240.47" x2="286.67" y2="240.47" stroke="#a600e0" stroke-width="0.9"/>
<line x1="283.47" y1="253.61" x2="286.67" y2="253.61" stroke="#a600e0" stroke-width="0.9"/>
<line x1="296.50" y1="239.74" x2="296.50" y2="252.88" stroke="#a600e0" stroke-width="0.9"/>
<line x1="294.90" y1="239.74" x2="298.10" y2="239.74" stroke="#a600e0" stroke-width="0.9"/>
<line x1="294.90" y1="252.88" x2="298.10" y2="252.88" stroke="#a600e0" stroke-width="0.9"/>
<line x1="307.92" y1="240.03" x2="307.92" y2="253.17" stroke="#a600e0" stroke-width="0.9"/>
<line x1="306.32" y1="240.03" x2="309.52" y2="240.03" stroke="#a600e0" stroke-width="0.9"/>
<line x1="306.32" y1="253.17" x2="309.52" y2="253.17" stroke="#a600e0" stroke-width="0.9"/>
<line x1="319.35" y1="259.89" x2="319.35" y2="262.81" stroke="#a600e0" stroke-width="0.9"/>
<line x1="317.75" y1="259.89" x2="320.95" y2="259.89" stroke="#a600e0" stroke-width="0.9"/>
<line x1="317.75" y1="262.81" x2="320.95" y2="262.81" stroke="#a600e0" stroke-width="0.9"/>
<line x1="330.78" y1="260.18" x2="330.78" y2="263.10" stroke="#a600e0" stroke-width="0.9"/>
<line x1="329.18" y1="260.18" x2="332.38" y2="260.18" stroke="#a600e0" stroke-width="0.9"/>
<line x1="329.18" y1="263.10" x2="332.38" y2="263.10" stroke="#a600e0" stroke-width="0.9"/>
<line x1="342.21" y1="260.18" x2="342.21" y2="263.10" stroke="#a600e0" stroke-width="0.9"/>
<line x1="340.61" y1="260.18" x2="343.81" y2="260.18" stroke="#a600e0" stroke-width="0.9"/>
<line x1="340.61" y1="263.10" x2="343.81" y2="263.10" stroke="#a600e0" stroke-width="0.9"/>
<polyline points="216.50,263.10 227.93,263.83 239.36,263.54 250.79,261.35 262.21,261.35 273.64,261.35 285.07,247.04 296.50,246.31 307.92,246.60 319.35,261.35 330.78,261.64 342.21,261.64" fill="none" stroke="#a600e0" stroke-width="1.1" stroke-linejoin="round"/>
<polygon points="216.50,265.30 218.70,261.56 214.30,261.56" fill="#a600e0"/>
<polygon points="227.93,266.03 230.13,262.29 225.73,262.29" fill="#a600e0"/>
<polygon points="239.36,265.74 241.56,262.00 237.16,262.00" fill="#a600e0"/>
<polygon points="250.79,263.55 252.99,259.81 248.59,259.81" fill="#a600e0"/>
<polygon points="262.21,263.55 264.41,259.81 260.01,259.81" fill="#a600e0"/>
<polygon points="273.64,263.55 275.84,259.81 271.44,259.81" fill="#a600e0"/>
<polygon points="285.07,249.24 287.27,245.50 282.87,245.50" fill="#a600e0"/>
<polygon points="296.50,248.51 298.70,244.77 294.30,244.77" fill="#a600e0"/>
<polygon points="307.92,248.80 310.12,245.06 305.72,245.06" fill="#a600e0"/>
<polygon points="319.35,263.55 321.55,259.81 317.15,259.81" fill="#a600e0"/>
<polygon points="330.78,263.84 332.98,260.10 328.58,260.10" fill="#a600e0"/>
<polygon points="342.21,263.84 344.41,260.10 340.01,260.10" fill="#a600e0"/>
<line x1="216.50" y1="265.00" x2="216.50" y2="266.46" stroke="#00bb00" stroke-width="0.9"/>
<line x1="214.90" y1="265.00" x2="218.10" y2="265.00" stroke="#00bb00" stroke-width="0.9"/>
<line x1="214.90" y1="266.46" x2="218.10" y2="266.46" stroke="#00bb00" stroke-width="0.9"/>
<line x1="227.93" y1="265.00" x2="227.93" y2="266.46" stroke="#00bb00" stroke-width="0.9"/>
<line x1="226.33" y1="265.00" x2="229.53" y2="265.00" stroke="#00bb00" stroke-width="0.9"/>
<line x1="226.33" y1="266.46" x2="229.53" y2="266.46" stroke="#00bb00" stroke-width="0.9"/>
<line x1="239.36" y1="264.27" x2="239.36" y2="265.73" stroke="#00bb00" stroke-width="0.9"/>
<line x1="237.76" y1="264.27" x2="240.96" y2="264.27" stroke="#00bb00" stroke-width="0.9"/>
<line x1="237.76" y1="265.73" x2="240.96" y2="265.73" stroke="#00bb00" stroke-width="0.9"/>
<line x1="250.79" y1="262.81" x2="250.79" y2="264.27" stroke="#00bb00" stroke-width="0.9"/>
<line x1="249.19" y1="262.81" x2="252.39" y2="262.81" stroke="#00bb00" stroke-width="0.9"/>
<line x1="249.19" y1="264.27" x2="252.39" y2="264.27" stroke="#00bb00" stroke-width="0.9"/>
<line x1="262.21" y1="264.12" x2="262.21" y2="265.58" stroke="#00bb00" stroke-width="0.9"/>
<line x1="260.61" y1="264.12" x2="263.81" y2="264.12" stroke="#00bb00" stroke-width="0.9"/>
<line x1="260.61" y1="265.58" x2="263.81" y2="265.58" stroke="#00bb00" stroke-width="0.9"/>
<line x1="273.64" y1="264.12" x2="273.64" y2="265.58" stroke="#00bb00" stroke-width="0.9"/>
<line x1="272.04" y1="264.12" x2="275.24" y2="264.12" stroke="#00bb00" stroke-width="0.9"/>
<line x1="272.04" y1="265.58" x2="275.24" y2="265.58" stroke="#00bb00" stroke-width="0.9"/>
<line x1="285.07" y1="243.68" x2="285.07" y2="252.44" stroke="#00bb00" stroke-width="0.9"/>
<line x1="283.47" y1="243.68" x2="286.67" y2="243.68" stroke="#00bb00" stroke-width="0.9"/>
<line x1="283.47" y1="252.44" x2="286.67" y2="252.44" stroke="#00bb00" stroke-width="0.9"/>
<line x1="296.50" y1="238.72" x2="296.50" y2="247.48" stroke="#00bb00" stroke-width="0.9"/>
<line x1="294.90" y1="238.72" x2="298.10" y2="238.72" stroke="#00bb00" stroke-width="0.9"/>
<line x1="294.90" y1="247.48" x2="298.10" y2="247.48" stroke="#00bb00" stroke-width="0.9"/>
<line x1="307.92" y1="236.24" x2="307.92" y2="242.08" stroke="#00bb00" stroke-width="0.9"/>
<line x1="306.32" y1="236.24" x2="309.52" y2="236.24" stroke="#00bb00" stroke-width="0.9"/>
<line x1="306.32" y1="242.08" x2="309.52" y2="242.08" stroke="#00bb00" stroke-width="0.9"/>
<line x1="319.35" y1="263.83" x2="319.35" y2="265.29" stroke="#00bb00" stroke-width="0.9"/>
<line x1="317.75" y1="263.83" x2="320.95" y2="263.83" stroke="#00bb00" stroke-width="0.9"/>
<line x1="317.75" y1="265.29" x2="320.95" y2="265.29" stroke="#00bb00" stroke-width="0.9"/>
<line x1="330.78" y1="263.83" x2="330.78" y2="265.29" stroke="#00bb00" stroke-width="0.9"/>
<line x1="329.18" y1="263.83" x2="332.38" y2="263.83" stroke="#00bb00" stroke-width="0.9"/>
<line x1="329.18" y1="265.29" x2="332.38" y2="265.29" stroke="#00bb00" stroke-width="0.9"/>
<line x1="342.21" y1="263.83" x2="342.21" y2="265.29" stroke="#00bb00" stroke-width="0.9"/>
<line x1="340.61" y1="263.83" x2="343.81" y2="263.83" stroke="#00bb00" stroke-width="0.9"/>
<line x1="340.61" y1="265.29" x2="343.81" y2="265.29" stroke="#00bb00" stroke-width="0.9"/>
<polyline points="216.50,265.73 227.93,265.73 239.36,265.00 250.79,263.54 262.21,264.85 273.64,264.85 285.07,248.06 296.50,243.10 307.92,239.16 319.35,264.56 330.78,264.56 342.21,264.56" fill="none" stroke="#00bb00" stroke-width="1.1" stroke-linejoin="round"/>
<polygon points="216.50,263.53 218.70,267.27 214.30,267.27" fill="#00bb00"/>
<polygon points="227.93,263.53 230.13,267.27 225.73,267.27" fill="#00bb00"/>
<polygon points="239.36,262.80 241.56,266.54 237.16,266.54" fill="#00bb00"/>
<polygon points="250.79,261.34 252.99,265.08 248.59,265.08" fill="#00bb00"/>
<polygon points="262.21,262.65 264.41,266.39 260.01,266.39" fill="#00bb00"/>
<polygon points="273.64,262.65 275.84,266.39 271.44,266.39" fill="#00bb00"/>
<polygon points="285.07,245.86 287.27,249.60 282.87,249.60" fill="#00bb00"/>
<polygon points="296.50,240.90 298.70,244.64 294.30,244.64" fill="#00bb00"/>
<polygon points="307.92,236.96 310.12,240.70 305.72,240.70" fill="#00bb00"/>
<polygon points="319.35,262.36 321.55,266.10 317.15,266.10" fill="#00bb00"/>
<polygon points="330.78,262.36 332.98,266.10 328.58,266.10" fill="#00bb00"/>
<polygon points="342.21,262.36 344.41,266.10 340.01,266.10" fill="#00bb00"/>
<line x1="216.50" y1="243.97" x2="216.50" y2="248.35" stroke="#ff0000" stroke-width="0.9"/>
<line x1="214.90" y1="243.97" x2="218.10" y2="243.97" stroke="#ff0000" stroke-width="0.9"/>
<line x1="214.90" y1="248.35" x2="218.10" y2="248.35" stroke="#ff0000" stroke-width="0.9"/>
<line x1="227.93" y1="244.56" x2="227.93" y2="248.94" stroke="#ff0000" stroke-width="0.9"/>
<line x1="226.33" y1="244.56" x2="229.53" y2="244.56" stroke="#ff0000" stroke-width="0.9"/>
<line x1="226.33" y1="248.94" x2="229.53" y2="248.94" stroke="#ff0000" stroke-width="0.9"/>
<line x1="239.36" y1="244.56" x2="239.36" y2="248.94" stroke="#ff0000" stroke-width="0.9"/>
<line x1="237.76" y1="244.56" x2="240.96" y2="244.56" stroke="#ff0000" stroke-width="0.9"/>
<line x1="237.76" y1="248.94" x2="240.96" y2="248.94" stroke="#ff0000" stroke-width="0.9"/>
<line x1="250.79" y1="258.14" x2="250.79" y2="259.60" stroke="#ff0000" stroke-width="0.9"/>
<line x1="249.19" y1="258.14" x2="252.39" y2="258.14" stroke="#ff0000" stroke-width="0.9"/>
<line x1="249.19" y1="259.60" x2="252.39" y2="259.60" stroke="#ff0000" stroke-width="0.9"/>
<line x1="262.21" y1="258.14" x2="262.21" y2="259.60" stroke="#ff0000" stroke-width="0.9"/>
<line x1="260.61" y1="258.14" x2="263.81" y2="258.14" stroke="#ff0000" stroke-width="0.9"/>
<line x1="260.61" y1="259.60" x2="263.81" y2="259.60" stroke="#ff0000" stroke-width="0.9"/>
<line x1="273.64" y1="258.14" x2="273.64" y2="259.60" stroke="#ff0000" stroke-width="0.9"/>
<line x1="272.04" y1="258.14" x2="275.24" y2="258.14" stroke="#ff0000" stroke-width="0.9"/>
<line x1="272.04" y1="259.60" x2="275.24" y2="259.60" stroke="#ff0000" stroke-width="0.9"/>
<line x1="285.07" y1="221.20" x2="285.07" y2="234.34" stroke="#ff0000" stroke-width="0.9"/>
<line x1="283.47" y1="221.20" x2="286.67" y2="221.20" stroke="#ff0000" stroke-width="0.9"/>
<line x1="283.47" y1="234.34" x2="286.67" y2="234.34" stroke="#ff0000" stroke-width="0.9"/>
<line x1="296.50" y1="221.64" x2="296.50" y2="234.78" stroke="#ff0000" stroke-width="0.9"/>
<line x1="294.90" y1="221.64" x2="298.10" y2="221.64" stroke="#ff0000" stroke-width="0.9"/>
<line x1="294.90" y1="234.78" x2="298.10" y2="234.78" stroke="#ff0000" stroke-width="0.9"/>
<line x1="307.92" y1="222.37" x2="307.92" y2="235.51" stroke="#ff0000" stroke-width="0.9"/>
<line x1="306.32" y1="222.37" x2="309.52" y2="222.37" stroke="#ff0000" stroke-width="0.9"/>
<line x1="306.32" y1="235.51" x2="309.52" y2="235.51" stroke="#ff0000" stroke-width="0.9"/>
<line x1="319.35" y1="261.79" x2="319.35" y2="263.25" stroke="#ff0000" stroke-width="0.9"/>
<line x1="317.75" y1="261.79" x2="320.95" y2="261.79" stroke="#ff0000" stroke-width="0.9"/>
<line x1="317.75" y1="263.25" x2="320.95" y2="263.25" stroke="#ff0000" stroke-width="0.9"/>
<line x1="330.78" y1="261.79" x2="330.78" y2="263.25" stroke="#ff0000" stroke-width="0.9"/>
<line x1="329.18" y1="261.79" x2="332.38" y2="261.79" stroke="#ff0000" stroke-width="0.9"/>
<line x1="329.18" y1="263.25" x2="332.38" y2="263.25" stroke="#ff0000" stroke-width="0.9"/>
<line x1="342.21" y1="261.64" x2="342.21" y2="263.10" stroke="#ff0000" stroke-width="0.9"/>
<line x1="340.61" y1="261.64" x2="343.81" y2="261.64" stroke="#ff0000" stroke-width="0.9"/>
<line x1="340.61" y1="263.10" x2="343.81" y2="263.10" stroke="#ff0000" stroke-width="0.9"/>
<polyline points="216.50,246.16 227.93,246.75 239.36,246.75 250.79,258.87 262.21,258.87 273.64,258.87 285.07,227.77 296.50,228.21 307.92,228.94 319.35,262.52 330.78,262.52 342.21,262.37" fill="none" stroke="#ff0000" stroke-width="1.1" stroke-linejoin="round"/>
<rect x="214.70" y="244.36" width="3.60" height="3.60" fill="#ff0000"/>
<rect x="226.13" y="244.95" width="3.60" height="3.60" fill="#ff0000"/>
<rect x="237.56" y="244.95" width="3.60" height="3.60" fill="#ff0000"/>
<rect x="248.99" y="257.07" width="3.60" height="3.60" fill="#ff0000"/>
<rect x="260.41" y="257.07" width="3.60" height="3.60" fill="#ff0000"/>
<rect x="271.84" y="257.07" width="3.60" height="3.60" fill="#ff0000"/>
<rect x="283.27" y="225.97" width="3.60" height="3.60" fill="#ff0000"/>
<rect x="294.70" y="226.41" width="3.60" height="3.60" fill="#ff0000"/>
<rect x="306.12" y="227.14" width="3.60" height="3.60" fill="#ff0000"/>
<rect x="317.55" y="260.72" width="3.60" height="3.60" fill="#ff0000"/>
<rect x="328.98" y="260.72" width="3.60" height="3.60" fill="#ff0000"/>
<rect x="340.41" y="260.57" width="3.60" height="3.60" fill="#ff0000"/>
<line x1="216.50" y1="224.99" x2="216.50" y2="226.45" stroke="#0000ff" stroke-width="0.9"/>
<line x1="214.90" y1="224.99" x2="218.10" y2="224.99" stroke="#0000ff" stroke-width="0.9"/>
<line x1="214.90" y1="226.45" x2="218.10" y2="226.45" stroke="#0000ff" stroke-width="0.9"/>
<line x1="227.93" y1="226.31" x2="227.93" y2="227.77" stroke="#0000ff" stroke-width="0.9"/>
<line x1="226.33" y1="226.31" x2="229.53" y2="226.31" stroke="#0000ff" stroke-width="0.9"/>
<line x1="226.33" y1="227.77" x2="229.53" y2="227.77" stroke="#0000ff" stroke-width="0.9"/>
<line x1="239.36" y1="226.60" x2="239.36" y2="228.06" stroke="#0000ff" stroke-width="0.9"/>
<line x1="237.76" y1="226.60" x2="240.96" y2="226.60" stroke="#0000ff" stroke-width="0.9"/>
<line x1="237.76" y1="228.06" x2="240.96" y2="228.06" stroke="#0000ff" stroke-width="0.9"/>
<line x1="250.79" y1="258.28" x2="250.79" y2="261.20" stroke="#0000ff" stroke-width="0.9"/>
<line x1="249.19" y1="258.28" x2="252.39" y2="258.28" stroke="#0000ff" stroke-width="0.9"/>
<line x1="249.19" y1="261.20" x2="252.39" y2="261.20" stroke="#0000ff" stroke-width="0.9"/>
<line x1="262.21" y1="258.28" x2="262.21" y2="261.20" stroke="#0000ff" stroke-width="0.9"/>
<line x1="260.61" y1="258.28" x2="263.81" y2="258.28" stroke="#0000ff" stroke-width="0.9"/>
<line x1="260.61" y1="261.20" x2="263.81" y2="261.20" stroke="#0000ff" stroke-width="0.9"/>
<line x1="273.64" y1="258.28" x2="273.64" y2="261.20" stroke="#0000ff" stroke-width="0.9"/>
<line x1="272.04" y1="258.28" x2="275.24" y2="258.28" stroke="#0000ff" stroke-width="0.9"/>
<line x1="272.04" y1="261.20" x2="275.24" y2="261.20" stroke="#0000ff" stroke-width="0.9"/>
<line x1="285.07" y1="190.68" x2="285.07" y2="197.98" stroke="#0000ff" stroke-width="0.9"/>
<line x1="283.47" y1="190.68" x2="286.67" y2="190.68" stroke="#0000ff" stroke-width="0.9"/>
<line x1="283.47" y1="197.98" x2="286.67" y2="197.98" stroke="#0000ff" stroke-width="0.9"/>
<line x1="296.50" y1="200.32" x2="296.50" y2="206.16" stroke="#0000ff" stroke-width="0.9"/>
<line x1="294.90" y1="200.32" x2="298.10" y2="200.32" stroke="#0000ff" stroke-width="0.9"/>
<line x1="294.90" y1="206.16" x2="298.10" y2="206.16" stroke="#0000ff" stroke-width="0.9"/>
<line x1="307.92" y1="203.09" x2="307.92" y2="208.93" stroke="#0000ff" stroke-width="0.9"/>
<line x1="306.32" y1="203.09" x2="309.52" y2="203.09" stroke="#0000ff" stroke-width="0.9"/>
<line x1="306.32" y1="208.93" x2="309.52" y2="208.93" stroke="#0000ff" stroke-width="0.9"/>
<line x1="319.35" y1="264.71" x2="319.35" y2="266.17" stroke="#0000ff" stroke-width="0.9"/>
<line x1="317.75" y1="264.71" x2="320.95" y2="264.71" stroke="#0000ff" stroke-width="0.9"/>
<line x1="317.75" y1="266.17" x2="320.95" y2="266.17" stroke="#0000ff" stroke-width="0.9"/>
<line x1="330.78" y1="264.85" x2="330.78" y2="266.31" stroke="#0000ff" stroke-width="0.9"/>
<line x1="329.18" y1="264.85" x2="332.38" y2="264.85" stroke="#0000ff" stroke-width="0.9"/>
<line x1="329.18" y1="266.31" x2="332.38" y2="266.31" stroke="#0000ff" stroke-width="0.9"/>
<line x1="342.21" y1="264.85" x2="342.21" y2="266.31" stroke="#0000ff" stroke-width="0.9"/>
<line x1="340.61" y1="264.85" x2="343.81" y2="264.85" stroke="#0000ff" stroke-width="0.9"/>
<line x1="340.61" y1="266.31" x2="343.81" y2="266.31" stroke="#0000ff" stroke-width="0.9"/>
<polyline points="216.50,225.72 227.93,227.04 239.36,227.33 250.79,259.74 262.21,259.74 273.64,259.74 285.07,194.33 296.50,203.24 307.92,206.01 319.35,265.44 330.78,265.58 342.21,265.58" fill="none" stroke="#0000ff" stroke-width="1.1" stroke-linejoin="round"/>
<circle cx="216.50" cy="225.72" r="1.90" fill="#0000ff"/>
<circle cx="227.93" cy="227.04" r="1.90" fill="#0000ff"/>
<circle cx="239.36" cy="227.33" r="1.90" fill="#0000ff"/>
<circle cx="250.79" cy="259.74" r="1.90" fill="#0000ff"/>
<circle cx="262.21" cy="259.74" r="1.90" fill="#0000ff"/>
<circle cx="273.64" cy="259.74" r="1.90" fill="#0000ff"/>
<circle cx="285.07" cy="194.33" r="1.90" fill="#0000ff"/>
<circle cx="296.50" cy="203.24" r="1.90" fill="#0000ff"/>
<circle cx="307.92" cy="206.01" r="1.90" fill="#0000ff"/>
<circle cx="319.35" cy="265.44" r="1.90" fill="#0000ff"/>
<circle cx="330.78" cy="265.58" r="1.90" fill="#0000ff"/>
<circle cx="342.21" cy="265.58" r="1.90" fill="#0000ff"/>
<line x1="334.80" y1="177.50" x2="344.30" y2="177.50" stroke="#0000ff" stroke-width="1.1"/>
<circle cx="339.55" cy="177.50" r="1.90" fill="#0000ff"/>
<text x="349.30" y="180.10" font-family='"Liberation Serif", serif' font-size="7.6" font-weight="normal" text-anchor="start" fill="#000">Control</text>
<line x1="334.80" y1="189.00" x2="344.30" y2="189.00" stroke="#ff0000" stroke-width="1.1"/>
<rect x="337.75" y="187.20" width="3.60" height="3.60" fill="#ff0000"/>
<text x="349.30" y="191.60" font-family='"Liberation Serif", serif' font-size="7.6" font-weight="normal" text-anchor="start" fill="#000">3-OBA</text>
<line x1="334.80" y1="200.50" x2="344.30" y2="200.50" stroke="#00bb00" stroke-width="1.1"/>
<polygon points="339.55,198.30 341.75,202.04 337.35,202.04" fill="#00bb00"/>
<text x="349.30" y="203.10" font-family='"Liberation Serif", serif' font-size="7.6" font-weight="normal" text-anchor="start" fill="#000">MET</text>
<line x1="334.80" y1="212.00" x2="344.30" y2="212.00" stroke="#a600e0" stroke-width="1.1"/>
<polygon points="339.55,214.20 341.75,210.46 337.35,210.46" fill="#a600e0"/>
<text x="349.30" y="214.60" font-family='"Liberation Serif", serif' font-size="7.6" font-weight="normal" text-anchor="start" fill="#000">3-OBA+MET</text>
<line x1="249.50" y1="214.20" x2="249.50" y2="235.60" stroke="#333" stroke-width="1.0"/>
<polygon points="248.25,234.40 250.75,234.40 249.50,237.60" fill="#222"/>
<text x="249.90" y="211.70" font-family='"Liberation Serif", serif' font-size="7.4" font-weight="normal" text-anchor="middle" fill="#000">OM</text>
<line x1="275.50" y1="190.30" x2="275.50" y2="211.00" stroke="#333" stroke-width="1.0"/>
<polygon points="274.25,209.80 276.75,209.80 275.50,213.00" fill="#222"/>
<text x="275.40" y="186.90" font-family='"Liberation Serif", serif' font-size="7.4" font-weight="normal" text-anchor="middle" fill="#000">FCCP</text>
<line x1="314.80" y1="195.70" x2="314.80" y2="216.20" stroke="#333" stroke-width="1.0"/>
<polygon points="313.55,215.00 316.05,215.00 314.80,218.20" fill="#222"/>
<text x="315.00" y="192.30" font-family='"Liberation Serif", serif' font-size="7.4" font-weight="normal" text-anchor="middle" fill="#000">Rotenone</text>
<line x1="412.60" y1="27.20" x2="412.60" y2="116.90" stroke="#1a1a1a" stroke-width="1"/>
<line x1="410.10" y1="116.20" x2="412.60" y2="116.20" stroke="#1a1a1a" stroke-width="1"/>
<text x="409.40" y="118.60" font-family='"Liberation Sans", sans-serif' font-size="6.8" font-weight="bold" text-anchor="end" fill="#000">0</text>
<line x1="410.10" y1="98.40" x2="412.60" y2="98.40" stroke="#1a1a1a" stroke-width="1"/>
<text x="409.40" y="100.80" font-family='"Liberation Sans", sans-serif' font-size="6.8" font-weight="bold" text-anchor="end" fill="#000">1</text>
<line x1="410.10" y1="80.60" x2="412.60" y2="80.60" stroke="#1a1a1a" stroke-width="1"/>
<text x="409.40" y="83.00" font-family='"Liberation Sans", sans-serif' font-size="6.8" font-weight="bold" text-anchor="end" fill="#000">2</text>
<line x1="410.10" y1="62.80" x2="412.60" y2="62.80" stroke="#1a1a1a" stroke-width="1"/>
<text x="409.40" y="65.20" font-family='"Liberation Sans", sans-serif' font-size="6.8" font-weight="bold" text-anchor="end" fill="#000">3</text>
<line x1="410.10" y1="45.00" x2="412.60" y2="45.00" stroke="#1a1a1a" stroke-width="1"/>
<text x="409.40" y="47.40" font-family='"Liberation Sans", sans-serif' font-size="6.8" font-weight="bold" text-anchor="end" fill="#000">4</text>
<line x1="410.10" y1="27.20" x2="412.60" y2="27.20" stroke="#1a1a1a" stroke-width="1"/>
<text x="409.40" y="29.60" font-family='"Liberation Sans", sans-serif' font-size="6.8" font-weight="bold" text-anchor="end" fill="#000">5</text>
<line x1="412.10" y1="116.40" x2="546.60" y2="116.40" stroke="#1a1a1a" stroke-width="1"/>
<rect x="419.00" y="68.91" width="9.60" height="47.49" fill="#0000ff"/>
<line x1="423.80" y1="56.11" x2="423.80" y2="68.91" stroke="#0000ff" stroke-width="1"/>
<line x1="421.10" y1="56.11" x2="426.50" y2="56.11" stroke="#0000ff" stroke-width="1"/>
<rect x="433.70" y="75.79" width="9.60" height="40.61" fill="#ff0000"/>
<line x1="438.50" y1="69.49" x2="438.50" y2="75.79" stroke="#ff0000" stroke-width="1"/>
<line x1="435.80" y1="69.49" x2="441.20" y2="69.49" stroke="#ff0000" stroke-width="1"/>
<rect x="448.40" y="54.20" width="9.60" height="62.20" fill="#00bb00"/>
<line x1="453.20" y1="43.01" x2="453.20" y2="54.20" stroke="#00bb00" stroke-width="1"/>
<line x1="450.50" y1="43.01" x2="455.90" y2="43.01" stroke="#00bb00" stroke-width="1"/>
<rect x="463.10" y="72.00" width="9.60" height="44.40" fill="#a600e0"/>
<line x1="467.90" y1="61.50" x2="467.90" y2="72.00" stroke="#a600e0" stroke-width="1"/>
<line x1="465.20" y1="61.50" x2="470.60" y2="61.50" stroke="#a600e0" stroke-width="1"/>
<line x1="445.85" y1="116.40" x2="445.85" y2="118.90" stroke="#1a1a1a" stroke-width="1"/>
<text x="445.85" y="128.00" font-family='"Liberation Serif", serif' font-size="7.6" font-weight="bold" text-anchor="middle" fill="#000">Glycolysis</text>
<rect x="488.10" y="60.90" width="9.60" height="55.50" fill="#0000ff"/>
<line x1="492.90" y1="50.39" x2="492.90" y2="60.90" stroke="#0000ff" stroke-width="1"/>
<line x1="490.20" y1="50.39" x2="495.60" y2="50.39" stroke="#0000ff" stroke-width="1"/>
<rect x="502.80" y="79.10" width="9.60" height="37.30" fill="#ff0000"/>
<line x1="507.60" y1="70.20" x2="507.60" y2="79.10" stroke="#ff0000" stroke-width="1"/>
<line x1="504.90" y1="70.20" x2="510.30" y2="70.20" stroke="#ff0000" stroke-width="1"/>
<rect x="517.50" y="60.01" width="9.60" height="56.39" fill="#00bb00"/>
<line x1="522.30" y1="49.81" x2="522.30" y2="60.01" stroke="#00bb00" stroke-width="1"/>
<line x1="519.60" y1="49.81" x2="525.00" y2="49.81" stroke="#00bb00" stroke-width="1"/>
<rect x="532.20" y="76.90" width="9.60" height="39.50" fill="#a600e0"/>
<line x1="537.00" y1="63.10" x2="537.00" y2="76.90" stroke="#a600e0" stroke-width="1"/>
<line x1="534.30" y1="63.10" x2="539.70" y2="63.10" stroke="#a600e0" stroke-width="1"/>
<line x1="514.95" y1="116.40" x2="514.95" y2="118.90" stroke="#1a1a1a" stroke-width="1"/>
<text x="514.95" y="128.00" font-family='"Liberation Serif", serif' font-size="7.6" font-weight="bold" text-anchor="middle" fill="#000">Glycolysis capacity</text>
<text x="401.40" y="72.50" font-family='"Liberation Serif", serif' font-size="7.55" font-weight="bold" text-anchor="middle" fill="#000" transform="rotate(-90 401.40 72.50)">ECAR (mpH/min/μg protein)</text>
<line x1="423.80" y1="40.20" x2="452.90" y2="40.20" stroke="#3a3a3a" stroke-width="1.1"/>
<text x="437.90" y="42.10" font-family='"Liberation Serif", serif' font-size="9.7" font-weight="bold" text-anchor="middle" fill="#3a3a3a">*</text>
<line x1="491.00" y1="33.50" x2="537.50" y2="33.50" stroke="#3a3a3a" stroke-width="1.1"/>
<text x="515.80" y="35.40" font-family='"Liberation Serif", serif' font-size="9.7" font-weight="bold" text-anchor="middle" fill="#3a3a3a">*</text>
<line x1="492.50" y1="43.50" x2="507.00" y2="43.50" stroke="#3a3a3a" stroke-width="1.1"/>
<text x="499.80" y="45.40" font-family='"Liberation Serif", serif' font-size="9.7" font-weight="bold" text-anchor="middle" fill="#3a3a3a">*</text>
<line x1="412.40" y1="180.30" x2="412.40" y2="269.80" stroke="#1a1a1a" stroke-width="1"/>
<line x1="409.90" y1="256.50" x2="412.40" y2="256.50" stroke="#1a1a1a" stroke-width="1"/>
<text x="409.20" y="258.90" font-family='"Liberation Sans", sans-serif' font-size="6.8" font-weight="bold" text-anchor="end" fill="#000">0</text>
<line x1="409.90" y1="231.10" x2="412.40" y2="231.10" stroke="#1a1a1a" stroke-width="1"/>
<text x="409.20" y="233.50" font-family='"Liberation Sans", sans-serif' font-size="6.8" font-weight="bold" text-anchor="end" fill="#000">2</text>
<line x1="409.90" y1="205.70" x2="412.40" y2="205.70" stroke="#1a1a1a" stroke-width="1"/>
<text x="409.20" y="208.10" font-family='"Liberation Sans", sans-serif' font-size="6.8" font-weight="bold" text-anchor="end" fill="#000">4</text>
<line x1="409.90" y1="180.30" x2="412.40" y2="180.30" stroke="#1a1a1a" stroke-width="1"/>
<text x="409.20" y="182.70" font-family='"Liberation Sans", sans-serif' font-size="6.8" font-weight="bold" text-anchor="end" fill="#000">6</text>
<line x1="411.90" y1="269.30" x2="545.50" y2="269.30" stroke="#1a1a1a" stroke-width="1"/>
<rect x="415.97" y="219.16" width="6.50" height="50.14" fill="#0000ff"/>
<line x1="419.22" y1="217.26" x2="419.22" y2="219.16" stroke="#0000ff" stroke-width="1"/>
<line x1="417.32" y1="217.26" x2="421.12" y2="217.26" stroke="#0000ff" stroke-width="1"/>
<rect x="425.62" y="236.05" width="6.50" height="33.25" fill="#ff0000"/>
<line x1="428.88" y1="233.39" x2="428.88" y2="236.05" stroke="#ff0000" stroke-width="1"/>
<line x1="426.98" y1="233.39" x2="430.77" y2="233.39" stroke="#ff0000" stroke-width="1"/>
<rect x="435.27" y="251.93" width="6.50" height="17.37" fill="#00bb00"/>
<line x1="438.52" y1="251.29" x2="438.52" y2="251.93" stroke="#00bb00" stroke-width="1"/>
<line x1="436.62" y1="251.29" x2="440.42" y2="251.29" stroke="#00bb00" stroke-width="1"/>
<rect x="444.93" y="251.93" width="6.50" height="17.37" fill="#a600e0"/>
<line x1="448.18" y1="249.01" x2="448.18" y2="251.93" stroke="#a600e0" stroke-width="1"/>
<line x1="446.28" y1="249.01" x2="450.07" y2="249.01" stroke="#a600e0" stroke-width="1"/>
<line x1="433.70" y1="269.30" x2="433.70" y2="271.80" stroke="#1a1a1a" stroke-width="1"/>
<text x="433.70" y="280.90" font-family='"Liberation Serif", serif' font-size="7.6" font-weight="bold" text-anchor="middle" fill="#000">Basal</text>
<text x="433.70" y="289.10" font-family='"Liberation Serif", serif' font-size="7.6" font-weight="bold" text-anchor="middle" fill="#000">respiration</text>
<rect x="460.77" y="228.43" width="6.50" height="40.87" fill="#0000ff"/>
<line x1="464.02" y1="226.66" x2="464.02" y2="228.43" stroke="#0000ff" stroke-width="1"/>
<line x1="462.12" y1="226.66" x2="465.92" y2="226.66" stroke="#0000ff" stroke-width="1"/>
<rect x="470.43" y="245.58" width="6.50" height="23.72" fill="#ff0000"/>
<line x1="473.68" y1="243.04" x2="473.68" y2="245.58" stroke="#ff0000" stroke-width="1"/>
<line x1="471.78" y1="243.04" x2="475.57" y2="243.04" stroke="#ff0000" stroke-width="1"/>
<rect x="480.07" y="258.15" width="6.50" height="11.15" fill="#00bb00"/>
<line x1="483.32" y1="257.26" x2="483.32" y2="258.15" stroke="#00bb00" stroke-width="1"/>
<line x1="481.43" y1="257.26" x2="485.22" y2="257.26" stroke="#00bb00" stroke-width="1"/>
<rect x="489.73" y="259.17" width="6.50" height="10.13" fill="#a600e0"/>
<line x1="492.98" y1="255.87" x2="492.98" y2="259.17" stroke="#a600e0" stroke-width="1"/>
<line x1="491.08" y1="255.87" x2="494.88" y2="255.87" stroke="#a600e0" stroke-width="1"/>
<line x1="478.50" y1="269.30" x2="478.50" y2="271.80" stroke="#1a1a1a" stroke-width="1"/>
<text x="478.50" y="280.90" font-family='"Liberation Serif", serif' font-size="7.6" font-weight="bold" text-anchor="middle" fill="#000">ATP</text>
<text x="478.50" y="289.10" font-family='"Liberation Serif", serif' font-size="7.6" font-weight="bold" text-anchor="middle" fill="#000">production</text>
<rect x="506.07" y="197.44" width="6.50" height="71.86" fill="#0000ff"/>
<line x1="509.32" y1="194.40" x2="509.32" y2="197.44" stroke="#0000ff" stroke-width="1"/>
<line x1="507.42" y1="194.40" x2="511.22" y2="194.40" stroke="#0000ff" stroke-width="1"/>
<rect x="515.72" y="220.94" width="6.50" height="48.36" fill="#ff0000"/>
<line x1="518.97" y1="214.46" x2="518.97" y2="220.94" stroke="#ff0000" stroke-width="1"/>
<line x1="517.07" y1="214.46" x2="520.87" y2="214.46" stroke="#ff0000" stroke-width="1"/>
<rect x="525.38" y="233.26" width="6.50" height="36.04" fill="#00bb00"/>
<line x1="528.62" y1="231.35" x2="528.62" y2="233.26" stroke="#00bb00" stroke-width="1"/>
<line x1="526.73" y1="231.35" x2="530.52" y2="231.35" stroke="#00bb00" stroke-width="1"/>
<rect x="535.02" y="235.29" width="6.50" height="34.01" fill="#a600e0"/>
<line x1="538.27" y1="229.58" x2="538.27" y2="235.29" stroke="#a600e0" stroke-width="1"/>
<line x1="536.38" y1="229.58" x2="540.17" y2="229.58" stroke="#a600e0" stroke-width="1"/>
<line x1="523.80" y1="269.30" x2="523.80" y2="271.80" stroke="#1a1a1a" stroke-width="1"/>
<text x="523.80" y="280.90" font-family='"Liberation Serif", serif' font-size="7.6" font-weight="bold" text-anchor="middle" fill="#000">Maximal</text>
<text x="523.80" y="289.10" font-family='"Liberation Serif", serif' font-size="7.6" font-weight="bold" text-anchor="middle" fill="#000">respiration</text>
<text x="401.30" y="225.25" font-family='"Liberation Serif", serif' font-size="7.8" font-weight="bold" text-anchor="middle" fill="#000" transform="rotate(-90 401.30 225.25)">OCR (pmol/min/μg protein)</text>
<line x1="418.50" y1="206.60" x2="447.90" y2="206.60" stroke="#3a3a3a" stroke-width="1.1"/>
<text x="433.50" y="208.50" font-family='"Liberation Serif", serif' font-size="9.7" font-weight="bold" text-anchor="middle" fill="#3a3a3a">***</text>
<line x1="419.00" y1="214.00" x2="429.20" y2="214.00" stroke="#3a3a3a" stroke-width="1.1"/>
<text x="424.40" y="215.90" font-family='"Liberation Serif", serif' font-size="9.7" font-weight="bold" text-anchor="middle" fill="#3a3a3a">**</text>
<line x1="429.00" y1="230.20" x2="447.40" y2="230.20" stroke="#3a3a3a" stroke-width="1.1"/>
<text x="438.20" y="232.10" font-family='"Liberation Serif", serif' font-size="9.7" font-weight="bold" text-anchor="middle" fill="#3a3a3a">*</text>
<line x1="438.00" y1="246.50" x2="446.90" y2="246.50" stroke="#3a3a3a" stroke-width="1.1"/>
<text x="442.90" y="245.10" font-family='"Liberation Serif", serif' font-size="7.2" font-weight="normal" text-anchor="middle" fill="#3a3a3a">ns</text>
<line x1="463.40" y1="214.30" x2="492.10" y2="214.30" stroke="#3a3a3a" stroke-width="1.1"/>
<text x="478.60" y="216.20" font-family='"Liberation Serif", serif' font-size="9.7" font-weight="bold" text-anchor="middle" fill="#3a3a3a">***</text>
<line x1="463.70" y1="221.90" x2="474.40" y2="221.90" stroke="#3a3a3a" stroke-width="1.1"/>
<text x="468.50" y="223.80" font-family='"Liberation Serif", serif' font-size="9.7" font-weight="bold" text-anchor="middle" fill="#3a3a3a">**</text>
<line x1="473.90" y1="238.00" x2="492.10" y2="238.00" stroke="#3a3a3a" stroke-width="1.1"/>
<text x="482.80" y="239.90" font-family='"Liberation Serif", serif' font-size="9.7" font-weight="bold" text-anchor="middle" fill="#3a3a3a">*</text>
<line x1="482.30" y1="252.10" x2="491.50" y2="252.10" stroke="#3a3a3a" stroke-width="1.1"/>
<text x="487.20" y="250.70" font-family='"Liberation Serif", serif' font-size="7.2" font-weight="normal" text-anchor="middle" fill="#3a3a3a">ns</text>
<line x1="508.70" y1="182.60" x2="536.70" y2="182.60" stroke="#3a3a3a" stroke-width="1.1"/>
<text x="522.80" y="184.50" font-family='"Liberation Serif", serif' font-size="9.7" font-weight="bold" text-anchor="middle" fill="#3a3a3a">***</text>
<line x1="508.70" y1="191.40" x2="518.30" y2="191.40" stroke="#3a3a3a" stroke-width="1.1"/>
<text x="513.60" y="193.30" font-family='"Liberation Serif", serif' font-size="9.7" font-weight="bold" text-anchor="middle" fill="#3a3a3a">**</text>
<line x1="517.70" y1="211.40" x2="538.40" y2="211.40" stroke="#3a3a3a" stroke-width="1.1"/>
<text x="527.50" y="213.30" font-family='"Liberation Serif", serif' font-size="9.7" font-weight="bold" text-anchor="middle" fill="#3a3a3a">*</text>
<line x1="528.00" y1="227.60" x2="536.70" y2="227.60" stroke="#3a3a3a" stroke-width="1.1"/>
<text x="532.70" y="226.20" font-family='"Liberation Serif", serif' font-size="7.2" font-weight="normal" text-anchor="middle" fill="#3a3a3a">ns</text>
</svg>
</body></html>
